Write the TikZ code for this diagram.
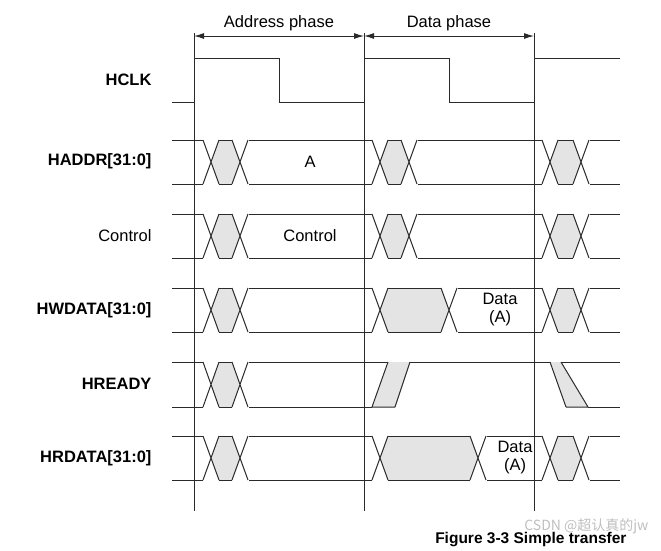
\documentclass[tikz,border=0pt]{standalone}
\usepackage{fontspec}
\setmainfont{Liberation Sans}
\newfontfamily\cjk{Noto Sans CJK SC}
\usetikzlibrary{arrows.meta}
\definecolor{gfill}{HTML}{E4E4E4}
\definecolor{ink}{HTML}{2A2A2A}
\tikzset{sig/.style={draw=ink,line width=1pt},
 lab/.style={font=\fontsize{16.5}{18}\selectfont\bfseries,anchor=east,text=black},
 txt/.style={font=\fontsize{16.5}{18}\selectfont,text=black,align=center},
 dim/.style={draw=ink,line width=1pt,{Latex[length=10pt,width=6pt]}-{Latex[length=10pt,width=6pt]}}}
\newcommand\xingw[3]{\fill[white] (#1-8.5,#2-1) rectangle (#1+8.5,#3+1);}
\newcommand\xingd[3]{\draw[sig] (#1-8,#2)--(#1+8,#3) (#1-8,#3)--(#1+8,#2);}
\newcommand\hexa[4]{\fill[gfill] (#1,{(#3+#4)/2}) -- (#1+8,#3) -- (#2-8,#3) -- (#2,{(#3+#4)/2}) -- (#2-8,#4) -- (#1+8,#4) -- cycle;
 \draw[sig] (#1+8,#3)--(#2-8,#3) (#1+8,#4)--(#2-8,#4);}
\newcommand\busrow[3]{%
 \draw[sig] (172,#1)--(620,#1) (172,#2)--(620,#2);
 \foreach \a/\b in {#3}{\xingw{\a}{#1}{#2}\xingw{\b}{#1}{#2}\hexa{\a}{\b}{#1}{#2}\xingd{\a}{#1}{#2}\xingd{\b}{#1}{#2}}}
\begin{document}
\begin{tikzpicture}[x=1pt,y=-1pt]
\useasboundingbox (0,0) rectangle (661,550);
% labels
\node[lab] (lclk) at (155,80) {HCLK};
\node[lab] (laddr) at (155,161) {HADDR[31:0]};
\node[lab,font=\fontsize{16.5}{18}\selectfont] (lctl) at (155,236) {Control};
\node[lab] (lwd) at (155,310) {HWDATA[31:0]};
\node[lab] (lrdy) at (155,384) {HREADY};
\node[lab] (lrd) at (155,458) {HRDATA[31:0]};
% clock
\draw[sig] (172,102)--(194,102)--(194,58)--(279,58)--(279,102)--(364,102)--(364,58)--(449,58)--(449,102)--(534,102)--(534,58)--(620,58);
% buses
\busrow{140}{184}{211/240,380/409,550/581}
\busrow{214}{258}{211/240,380/409,550/581}
\busrow{288}{332}{211/240,380/449,550/581}
\busrow{436}{480}{211/240,380/478,550/581}
% HREADY
\draw[sig] (172,362)--(620,362) (172,407)--(372,407) (588,407)--(620,407);
\xingw{211}{362}{407}\xingw{240}{362}{407}\hexa{211}{240}{362}{407}\xingd{211}{362}{407}\xingd{240}{362}{407}
\fill[gfill] (372,407)--(388,362)--(410,362)--(395,407)--cycle;
\draw[sig] (372,407)--(388,362) (395,407)--(410,362) (372,407)--(395,407);
\fill[gfill] (550,362)--(561,362)--(588,407)--(566,407)--cycle;
\draw[sig] (550,362)--(566,407) (561,362)--(588,407) (566,407)--(588,407);
% texts
\node[txt] (ta) at (310,162) {A};
\node[txt] (tc) at (310,236) {Control};
\node[txt,font=\fontsize{16.5}{18}\selectfont] (twd) at (500,310) {Data\\(A)};
\node[txt,font=\fontsize{16.5}{18}\selectfont] (trd) at (515,458) {Data\\(A)};
% verticals and phases
\coordinate (v1t) at (194,33); \coordinate (v1b) at (194,511);
\coordinate (v2t) at (364,33); \coordinate (v2b) at (364,511);
\coordinate (v3t) at (534,33); \coordinate (v3b) at (534,511);
\draw[sig] (v1t)--(v1b) (v2t)--(v2b) (v3t)--(v3b);
\coordinate (a1) at (194,36); \coordinate (a2) at (364,36); \coordinate (a3) at (534,36);
\draw[dim] (a1)--(a2);
\draw[dim] (a2)--(a3);
\node[txt] (pa) at (279,23) {Address phase};
\node[txt] (pd) at (449,23) {Data phase};
% caption
\node[txt,text=black!25,font=\fontsize{14}{16}\selectfont\cjk,anchor=east] (wm) at (652,526) {CSDN @超认真的jw};
\node[txt,font=\fontsize{15.5}{17}\selectfont\bfseries,anchor=east] (cap) at (630,540) {Figure 3-3 Simple transfer};
\end{tikzpicture}
\end{document}
